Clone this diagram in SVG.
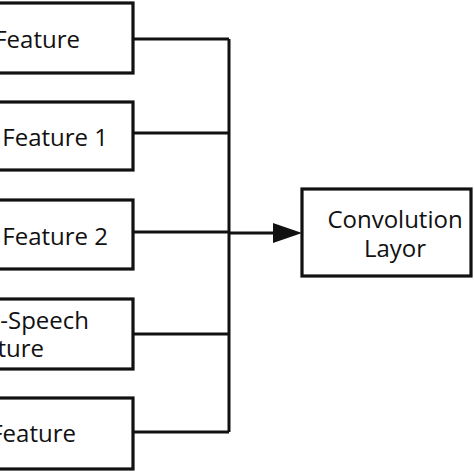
<svg xmlns="http://www.w3.org/2000/svg" width="474" height="474" viewBox="0 0 474 474">
<style>
.box{fill:#fff;stroke:#111;stroke-width:3.2}
.t{font-family:"Open Sans","DejaVu Sans",sans-serif;font-size:24px;fill:#111}
.c{fill:none;stroke:#111;stroke-width:3}
</style>
<defs>
<marker id="ah" markerWidth="10" markerHeight="8" refX="10" refY="4" orient="auto" markerUnits="userSpaceOnUse" viewBox="0 0 10 8">
<path d="M0,0 L10,4 L0,8 Z" fill="#111"/>
</marker>
</defs>
<rect width="474" height="474" fill="#fff"/>
<g id="connectors">
<path class="c" d="M133,39 H229 M133,133 H229 M133,232 H229 M133,334 H229 M133,432 H229 M229,39 V432"/>
<line class="c" x1="229" y1="233" x2="276" y2="233"/>
<polygon points="273,223 302,233 273,243" fill="#111"/>
</g>
<g id="node1">
<rect class="box" x="-40" y="3" width="173" height="70"/>
<text class="t" x="80" y="48" text-anchor="end">Feature</text>
</g>
<g id="node2">
<rect class="box" x="-40" y="102" width="173" height="68"/>
<text class="t" x="108" y="146" text-anchor="end">Feature 1</text>
</g>
<g id="node3">
<rect class="box" x="-40" y="200" width="173" height="69"/>
<text class="t" x="108" y="245" text-anchor="end">Feature 2</text>
</g>
<g id="node4">
<rect class="box" x="-40" y="299" width="173" height="70"/>
<text class="t" x="89" y="329" text-anchor="end">-Speech</text>
<text class="t" x="44" y="357" text-anchor="end">ture</text>
</g>
<g id="node5">
<rect class="box" x="-40" y="398" width="173" height="71"/>
<text class="t" x="76" y="442" text-anchor="end">Feature</text>
</g>
<g id="node6">
<rect class="box" x="302" y="189" width="169" height="87"/>
<text class="t" x="395" y="228" text-anchor="middle">Convolution</text>
<text class="t" x="395" y="257" text-anchor="middle">Layor</text>
</g>
</svg>
